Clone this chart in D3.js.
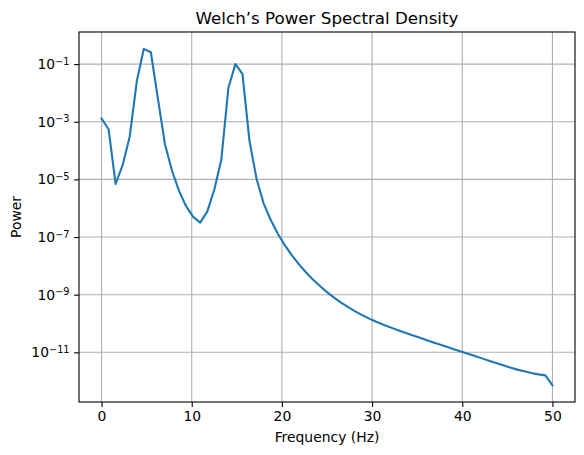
<!DOCTYPE html>
<html>
<head>
<meta charset="utf-8">
<script src="https://cdn.jsdelivr.net/npm/d3@7"></script>
<style>
  body { margin: 0; background: #fff; }
  svg { display: block; font-family: "DejaVu Sans", sans-serif; }
</style>
</head>
<body>
<script>
// frequency bins (Hz), Welch with fs = 100, nperseg = 128
const freqStep = 0.78125;
const binCount = 65;

// log10 of power
const logPower = [
  -2.89, -3.26, -5.16, -4.50, -3.51, -1.60, -0.47, -0.59,
  -2.20, -3.78, -4.70, -5.40, -5.93, -6.30, -6.50, -6.12,
  -5.36, -4.32, -1.83, -1.00, -1.34, -3.67, -4.98, -5.83,
  -6.40, -6.88, -7.28, -7.63, -7.94, -8.22, -8.47, -8.70,
  -8.91, -9.10, -9.275, -9.435, -9.58, -9.71, -9.83, -9.94,
  -10.04, -10.135, -10.225, -10.315, -10.40, -10.48, -10.565, -10.65,
  -10.73, -10.81, -10.89, -10.97, -11.05, -11.13, -11.21, -11.29,
  -11.37, -11.45, -11.53, -11.60, -11.66, -11.72, -11.765, -11.80,
  -12.14
];

const xTicks = [0, 10, 20, 30, 40, 50];
const yTickExps = [-1, -3, -5, -7, -9, -11];

const titleText = "Welch\u2019s Power Spectral Density";
const xLabelText = "Frequency (Hz)";
const yLabelText = "Power";

const freqs = d3.range(binCount).map(i => i * freqStep);
const data = freqs.map((f, i) => ({ f: f, p: Math.pow(10, logPower[i]) }));

const width = 584, height = 455;
const margin = { top: 32, right: 9, bottom: 53, left: 79 };
const plotW = width - margin.left - margin.right;
const plotH = height - margin.top - margin.bottom;

const svg = d3.select("body").append("svg")
  .attr("width", width)
  .attr("height", height);

// matplotlib style 5% margins (log space for y)
const xMin = d3.min(freqs), xMax = d3.max(freqs);
const xPad = (xMax - xMin) * 0.05;
const lMin = d3.min(logPower), lMax = d3.max(logPower);
const lPad = (lMax - lMin) * 0.05;

const x = d3.scaleLinear()
  .domain([xMin - xPad, xMax + xPad])
  .range([0, plotW]);

const y = d3.scaleLog()
  .domain([Math.pow(10, lMin - lPad), Math.pow(10, lMax + lPad)])
  .range([plotH, 0]);

const g = svg.append("g")
  .attr("transform", `translate(${margin.left},${margin.top})`);

// grid
g.append("g").selectAll("line")
  .data(xTicks)
  .enter().append("line")
  .attr("x1", d => x(d)).attr("x2", d => x(d))
  .attr("y1", 0).attr("y2", plotH)
  .attr("stroke", "#b0b0b0")
  .attr("stroke-width", 1.1);

g.append("g").selectAll("line")
  .data(yTickExps)
  .enter().append("line")
  .attr("x1", 0).attr("x2", plotW)
  .attr("y1", d => y(Math.pow(10, d))).attr("y2", d => y(Math.pow(10, d)))
  .attr("stroke", "#b0b0b0")
  .attr("stroke-width", 1.1);

// the curve
const line = d3.line()
  .x(d => x(d.f))
  .y(d => y(d.p));

g.append("path")
  .datum(data)
  .attr("fill", "none")
  .attr("stroke", "#1f77b4")
  .attr("stroke-width", 2.1)
  .attr("stroke-linejoin", "round")
  .attr("stroke-linecap", "square")
  .attr("d", line);

// axes
const xAxis = d3.axisBottom(x)
  .tickValues(xTicks)
  .tickSize(4.9)
  .tickPadding(4.5)
  .tickFormat(d3.format("d"));

const xg = g.append("g")
  .attr("transform", `translate(0,${plotH})`)
  .call(xAxis);

const yAxis = d3.axisLeft(y)
  .tickValues(yTickExps.map(e => Math.pow(10, e)))
  .tickSize(4.9)
  .tickPadding(4.5)
  .tickFormat("");

const yg = g.append("g").call(yAxis);

[xg, yg].forEach(a => {
  a.select(".domain").remove();
  a.selectAll(".tick line").attr("stroke", "#000").attr("stroke-width", 1.1);
  a.selectAll("text")
    .attr("fill", "#000")
    .style("font-family", "DejaVu Sans")
    .style("font-size", "13.9px");
});

// y tick labels as 10 with superscript exponent
yg.selectAll(".tick").each(function(d) {
  const e = Math.round(Math.log10(d));
  const t = d3.select(this).append("text")
    .attr("x", -9.5)
    .attr("dy", "0.32em")
    .attr("text-anchor", "end")
    .attr("fill", "#000")
    .style("font-family", "DejaVu Sans")
    .style("font-size", "13.9px");
  t.append("tspan").text("10");
  t.append("tspan")
    .attr("dy", "-0.45em")
    .style("font-size", "9.7px")
    .text("\u2212" + Math.abs(e));
});

// frame
g.append("rect")
  .attr("width", plotW)
  .attr("height", plotH)
  .attr("fill", "none")
  .attr("stroke", "#000")
  .attr("stroke-width", 1.1);

// labels
svg.append("text")
  .attr("x", margin.left + plotW / 2)
  .attr("y", 24)
  .attr("text-anchor", "middle")
  .style("font-size", "16.7px")
  .text(titleText);

svg.append("text")
  .attr("x", margin.left + plotW / 2)
  .attr("y", 442)
  .attr("text-anchor", "middle")
  .style("font-size", "13.9px")
  .text(xLabelText);

svg.append("text")
  .attr("transform", `translate(21,${margin.top + plotH / 2}) rotate(-90)`)
  .attr("text-anchor", "middle")
  .style("font-size", "13.9px")
  .text(yLabelText);
</script>
</body>
</html>
